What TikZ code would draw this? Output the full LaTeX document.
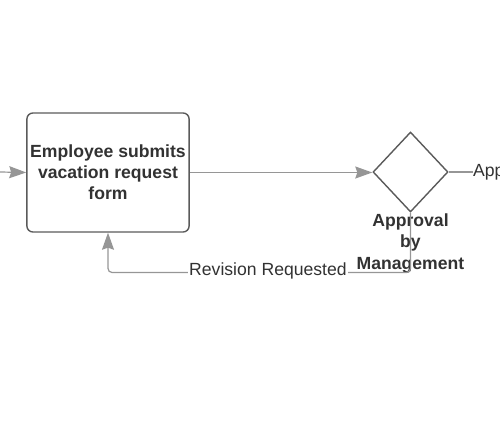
\documentclass[tikz,border=0pt]{standalone}
\usepackage{fontspec}
\setmainfont{Liberation Sans}
\usetikzlibrary{
    arrows.meta,
    positioning,
    calc,
    shapes.geometric
}
\definecolor{lineGray}{RGB}{150,150,150}
\definecolor{edgeGray}{RGB}{90,90,90}
\definecolor{txtGray}{RGB}{50,50,50}

\begin{document}
\begin{tikzpicture}[
    x=1pt, y=-1pt,
    task/.style={draw=edgeGray, line width=1.4pt, rounded corners=6pt,
                minimum width=160pt, minimum height=119pt,
                align=center, font=\bfseries\fontsize{17.6}{21}\selectfont,
                text=txtGray},
    gate/.style={draw=edgeGray, line width=1.4pt, diamond, aspect=0.94,
                inner sep=0pt, minimum width=75pt, minimum height=80pt},
    arr/.style={-{Stealth[length=17pt, width=12pt, inset=2pt]},
                line width=1.2pt, lineGray},
    ln/.style={line width=1.2pt, lineGray},
    lab/.style={font=\fontsize{17.6}{21}\selectfont, text=txtGray},
    blab/.style={font=\bfseries\fontsize{17.6}{21.5}\selectfont,
                text=txtGray, align=center}
  ]
    \useasboundingbox (0,0) rectangle (500,436);
    \clip (0,0) rectangle (500,436);

    \node[task] (form) at (108,172.5) {Employee submits\\vacation request\\form};
    \node[gate] (mgmt) at (410.5,172) {};
    \node[blab] (mgmtlab) at (410.5,243) {Approval\\by\\Management};

    \coordinate (start) at (0,172);
    \coordinate (appr)  at (473,172);
    \coordinate (back)  at (108,272.5);

    \draw[arr](start)--(form.west);
    \draw[arr](form.east)--(form.east -| mgmt.west);
    \draw[ln](mgmt.east)--(appr);
    \node[lab, anchor=west, inner sep=0pt] (apprlab) at (appr) {Approved};

    \draw[arr, rounded corners=4pt](mgmt.south)|-(back)--(form.south -| back);
    \node[lab, fill=white, inner sep=1pt] (revlab) at (268,271) {Revision Requested};
  \end{tikzpicture}
\end{document}
